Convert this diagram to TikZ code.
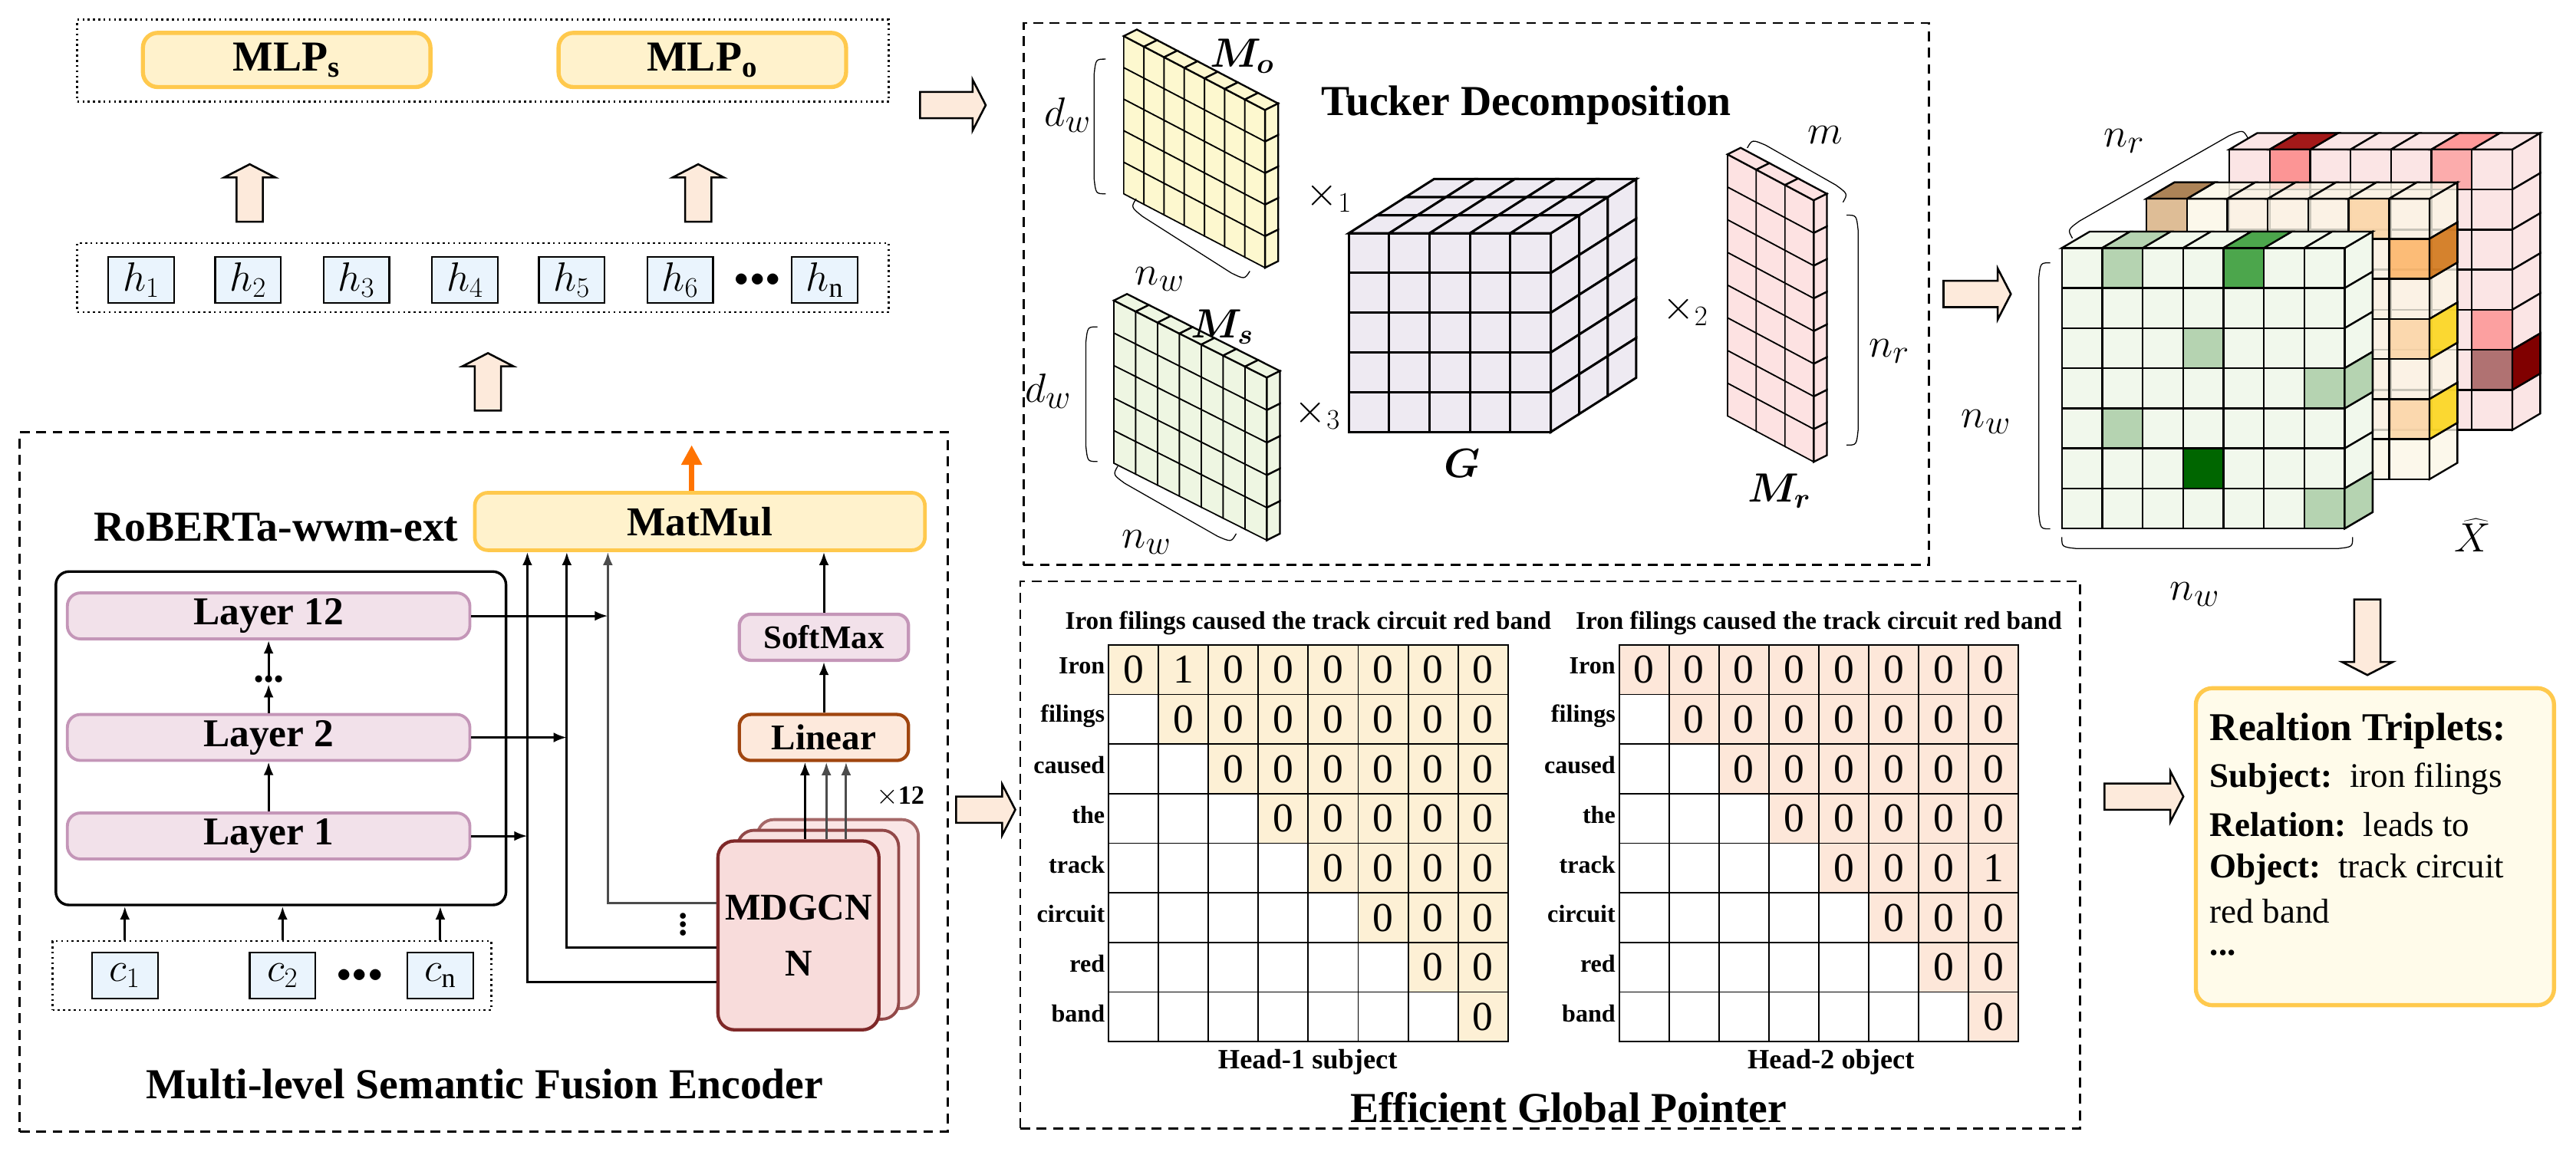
\documentclass[tikz,border=0pt]{standalone}
\usepackage{fontspec}
\setmainfont{Liberation Serif}
\usepackage{bm}
\usetikzlibrary{arrows.meta}

\definecolor{matO}{HTML}{FDF8CF}
\definecolor{matS}{HTML}{EEF6E2}
\definecolor{matR}{HTML}{FDE2E2}
\definecolor{core}{HTML}{EEEAF2}
\definecolor{tgrn}{HTML}{F1F8EC}
\definecolor{tyel}{HTML}{FBF6E6}
\definecolor{tpnk}{HTML}{FBE5E5}
\definecolor{subj}{HTML}{FDF0D5}
\definecolor{obj}{HTML}{FDE7D9}
\definecolor{hfill}{HTML}{EAF4FD}
\definecolor{mlpfill}{HTML}{FFF2CC}
\definecolor{mlpdraw}{HTML}{FFC94D}
\definecolor{layfill}{HTML}{F2E1EA}
\definecolor{laydraw}{HTML}{C496B8}
\definecolor{linfill}{HTML}{FDE9DC}
\definecolor{lindraw}{HTML}{A0450F}
\definecolor{mdgfill}{HTML}{F8DCDB}
\definecolor{mdgdraw}{HTML}{7F2828}
\definecolor{fatfill}{HTML}{FDEADB}
\definecolor{tripfill}{HTML}{FFFBEA}

\tikzset{
  cell/.style={draw=black, line width=1.1pt},
  dotbox/.style={draw, dotted, line width=1.2pt},
  dashbox/.style={draw, dash pattern=on 6pt off 4pt, line width=1.2pt},
  mlp/.style={draw=mlpdraw, fill=mlpfill, line width=2.5pt, rounded corners=9pt, font=\fontsize{26}{30}\selectfont\bfseries},
  layer/.style={draw=laydraw, fill=layfill, line width=1.8pt, rounded corners=8pt, minimum width=245pt, minimum height=28pt, font=\fontsize{24}{28}\selectfont\bfseries},
  tok/.style={draw, fill=hfill, line width=1pt, minimum width=40pt, minimum height=28pt, inner sep=0pt, font=\fontsize{24}{28}\selectfont},
  zero/.style={font=\fontsize{25}{28}\selectfont, inner sep=0pt},
  wlab/.style={font=\fontsize{15}{18}\selectfont\bfseries, inner sep=1pt},
  ttl/.style={font=\fontsize{26}{30}\selectfont\bfseries},
  mlab/.style={font=\fontsize{30}{34}\selectfont, inner sep=0pt},
  blab/.style={font=\fontsize{25}{29}\selectfont, inner sep=0pt},
  brk/.style={draw, line width=0.6pt},
  fatarr/.style={draw, fill=fatfill, line width=1.2pt},
  conn/.style={-{Latex[length=8pt,width=6pt]}, line width=1.4pt},
  gconn/.style={conn, draw=black!70},
  trip/.style={anchor=west, font=\fontsize{21}{25}\selectfont, inner sep=0pt}
}

% fat block arrow: tail point, rotation, length
\newcommand{\fatarrow}[3]{\draw[fatarr, shift={#1}, rotate=#2] (0,-8) -- (#3-8,-8) -- (#3-8,-15.5) -- (#3,0) -- (#3-8,15.5) -- (#3-8,8) -- (0,8) -- cycle;}
% thin bracket: x, y, angle, length
\newcommand{\brk}[4]{\draw[brk, shift={(#1,#2)}, rotate=#3] (0,7) .. controls (0,1) .. (9,0) -- (#4-9,0) .. controls (#4,1) .. (#4,7);}
% thin matrix slab: x, y, ux, uy, vy, cols, rows, colour
\newcommand{\slab}[8]{%
  \begin{scope}[shift={(#1,#2)}]
    \foreach \i in {1,...,#6}{
      \foreach \j in {1,...,#7}
        \filldraw[cell, line width=0.8pt, fill=#8] ({(\i-1)*#3},{(\i-1)*#4+(\j-1)*#5}) -- ++(#3,#4) -- ++(0,#5) -- ++(-#3,-#4) -- cycle;
      \filldraw[cell, fill=#8] ({(\i-1)*#3},{(\i-1)*#4}) -- ++(#3,#4) -- ++(8,-4) -- ++(-#3,-#4) -- cycle;
    }
    \foreach \j in {1,...,#7}
      \filldraw[cell, fill=#8] ({#6*#3},{#6*#4+(\j-1)*#5}) -- ++(0,#5) -- ++(8,-4) -- ++(0,-#5) -- cycle;
  \end{scope}}
% tensor slab cells (inside a shifted scope)
\newcommand{\tslab}[1]{%
  \foreach \i in {0,...,6}{
    \foreach \j in {0,...,6}
      \filldraw[cell, fill=#1] (\i*24.6,\j*24.4) rectangle ++(24.6,24.4);
    \filldraw[cell, fill=#1] (\i*24.6,0) -- ++(17,-10) -- ++(24.6,0) -- ++(-17,10) -- cycle;
    \filldraw[cell, fill=#1] (172.2,\i*24.4) -- ++(17,-10) -- ++(0,24.4) -- ++(-17,10) -- cycle;
  }}
\newcommand{\frontc}[3]{\filldraw[cell, fill=#3] (#1*24.6,#2*24.4) rectangle ++(24.6,24.4);}
\newcommand{\topc}[2]{\filldraw[cell, fill=#2] (#1*24.6,0) -- ++(17,-10) -- ++(24.6,0) -- ++(-17,10) -- cycle;}
\newcommand{\sidec}[2]{\filldraw[cell, fill=#2] (172.2,#1*24.4) -- ++(17,-10) -- ++(0,24.4) -- ++(-17,10) -- cycle;}

\begin{document}
\begin{tikzpicture}[x=1pt,y=-1pt]
\useasboundingbox (0,0) rectangle (1568,703);

% ---------- top left: MLP and hidden states
\node[dotbox, minimum width=494pt, minimum height=50pt] (mlpbox) at (294,37) {};
\node[mlp, minimum width=175pt, minimum height=33pt] (mlps) at (174.5,36.5) {MLP\textsubscript{s}};
\node[mlp, minimum width=175pt, minimum height=33pt] (mlpo) at (427.5,36.5) {MLP\textsubscript{o}};
\node[dotbox, minimum width=494pt, minimum height=42pt] (hbox) at (294,169) {};
\foreach \x/\k [count=\n] in {86/1,151/2,217/3,283/4,348/5,414/6,502/\mathrm{n}}
  \node[tok] (h\n) at (\x,170.5) {$h_{\k}$};
\node[font=\fontsize{16}{16}\selectfont] (hdots) at (461,170.5) {$\bullet\!\bullet\!\bullet$};
\fatarrow{(152,135)}{90}{35}
\fatarrow{(425,135)}{90}{35}
\fatarrow{(297,250)}{90}{35}
\fatarrow{(560,64)}{0}{40}

% ---------- encoder
\node[dashbox, minimum width=565pt, minimum height=426pt] (enc) at (294.5,476) {};
\node[draw, line width=1.6pt, rounded corners=8pt, minimum width=274pt, minimum height=203pt] (rob) at (171,449.5) {};
\node[draw=mlpdraw, fill=mlpfill, line width=2.2pt, rounded corners=8pt, minimum width=274pt, minimum height=35pt, font=\fontsize{25}{29}\selectfont\bfseries] (mm) at (426,317.5) {MatMul};
\node[ttl] (rlab) at (168,321) {RoBERTa-wwm-ext};
\node[layer] (l12) at (163.5,375) {Layer 12};
\node[layer] (l2) at (163.5,449) {Layer 2};
\node[layer] (l1) at (163.5,509) {Layer 1};
\node[font=\fontsize{11}{11}\selectfont, inner sep=0pt] (vd) at (163.5,414) {$\bullet\!\bullet\!\bullet$};
\draw[conn] (l1.north) -- (l2.south);
\draw[conn] (l2.north) -- (vd.south);
\draw[conn] (vd.north) -- (l12.south);
\node[dotbox, minimum width=267pt, minimum height=42pt] (cbox) at (165.5,594) {};
\node[tok] (c1) at (76,594) {$c_{1}$};
\node[tok] (c2) at (172,594) {$c_{2}$};
\node[tok] (cn) at (268,594) {$c_{\mathrm{n}}$};
\node[font=\fontsize{16}{16}\selectfont] (cdots) at (219,594) {$\bullet\!\bullet\!\bullet$};
\foreach \c in {c1,c2,cn}
  \draw[conn] (cbox.north -| \c) -- (rob.south -| \c);
% MDGCN stack
\node[draw=mdgdraw!70, fill=mdgfill!70, line width=1.8pt, rounded corners=10pt, minimum width=98pt, minimum height=115pt] (mdg3) at (510,556.5) {};
\node[draw=mdgdraw!85, fill=mdgfill!85, line width=1.8pt, rounded corners=10pt, minimum width=98pt, minimum height=115pt] (mdg2) at (498,563) {};
\node[draw=mdgdraw, fill=mdgfill, line width=2pt, rounded corners=10pt, minimum width=98pt, minimum height=115pt, align=center, font=\fontsize{23}{34}\selectfont\bfseries] (mdg) at (486,569.5) {MDGCN\\N};
\node[font=\fontsize{16}{18}\selectfont\bfseries] (x12) at (548,485) {$\times$12};
\node[draw=lindraw, fill=linfill, line width=2pt, rounded corners=7pt, minimum width=103pt, minimum height=28pt, font=\fontsize{22}{26}\selectfont\bfseries] (lin) at (501.5,449) {Linear};
\node[draw=laydraw, fill=layfill, line width=2pt, rounded corners=7pt, minimum width=103pt, minimum height=28pt, font=\fontsize{20}{24}\selectfont\bfseries] (sm) at (501.5,388) {SoftMax};
\draw[conn] ([xshift=4pt]mdg.north) -- ([xshift=4pt]mdg.north |- lin.south);
\draw[gconn] ([xshift=17pt]mdg.north) -- ([xshift=17pt]mdg.north |- lin.south);
\draw[gconn] ([xshift=29pt]mdg.north) -- ([xshift=29pt]mdg.north |- lin.south);
\draw[conn] (lin.north) -- (sm.south);
\draw[conn] (sm.north) -- (sm.north |- mm.south);
\coordinate (mmout) at (421,271);
\draw[-{Triangle[length=12pt,width=12pt]}, draw=orange!90!red, line width=3.5pt] (mm.north -| mmout) -- (mmout);
\coordinate (v1) at (321,598);
\coordinate (v2) at (345,577);
\coordinate (v3) at (370,550);
\draw[conn] (l1.east) -- (l1.east -| v1);
\draw[conn] (l2.east) -- (l2.east -| v2);
\draw[conn] (l12.east) -- (l12.east -| v3);
\draw[conn] (mdg.west |- v1) -- (v1) -- (v1 |- mm.south);
\draw[conn] (mdg.west |- v2) -- (v2) -- (v2 |- mm.south);
\draw[gconn] (mdg.west |- v3) -- (v3) -- (v3 |- mm.south);
\node[font=\fontsize{9}{9}\selectfont, inner sep=0pt, rotate=90] (hd) at (416,563) {$\bullet\!\bullet\!\bullet$};
\node[ttl] (enctitle) at (295,660) {Multi-level Semantic Fusion Encoder};
\fatarrow{(582,493)}{0}{36}

% ---------- Tucker decomposition
\node[dashbox, minimum width=551pt, minimum height=330pt] (tucker) at (898.5,179) {};
\node[ttl] (tucktitle) at (929,64) {Tucker Decomposition};
\slab{684}{22}{12.29}{6.43}{19.2}{7}{5}{matO}
\slab{678}{183}{13.3}{6.7}{19.8}{7}{5}{matS}
\slab{1051.5}{94}{17.5}{9.33}{19.9}{3}{8}{matR}
\begin{scope}[shift={(821,142)}]
  \foreach \i in {0,...,4}{
    \foreach \j in {0,...,4}
      \filldraw[cell, line width=1.4pt, fill=core] (\i*24.6,\j*24.2) rectangle ++(24.6,24.2);
    \foreach \k in {0,...,2}{
      \filldraw[cell, line width=1.4pt, fill=core] ({\i*24.6+\k*17.3},{-\k*11}) -- ++(17.3,-11) -- ++(24.6,0) -- ++(-17.3,11) -- cycle;
      \filldraw[cell, line width=1.4pt, fill=core] ({123+\k*17.3},{\i*24.2-\k*11}) -- ++(17.3,-11) -- ++(0,24.2) -- ++(-17.3,11) -- cycle;
    }
  }
\end{scope}
\node[blab] (Mo) at (756,34) {$\bm{M_{o}}$};
\node[blab] (Ms) at (744,199) {$\bm{M_{s}}$};
\node[blab] (Mr) at (1083,299) {$\bm{M_{r}}$};
\node[blab] (G) at (890,282) {$\bm{G}$};
\node[mlab] (dw1) at (650,70) {$d_{w}$};
\node[mlab] (dw2) at (638,238) {$d_{w}$};
\node[mlab] (nw1) at (706,170) {$n_{w}$};
\node[mlab] (nw2) at (698,330) {$n_{w}$};
\node[mlab] (mm1) at (1111,82) {$m$};
\node[mlab] (nr1) at (1150,214) {$n_{r}$};
\node[blab] (x1) at (809,120) {$\times_{1}$};
\node[blab] (x3) at (802,252) {$\times_{3}$};
\node[blab] (x2) at (1026,189) {$\times_{2}$};
\brk{666}{118}{90}{82}
\brk{661}{281}{90}{82}
\brk{757}{171}{147.5}{82}
\brk{749}{331}{150.3}{83}
\brk{1067}{84}{-29.6}{67}
\brk{1131}{131}{-90}{140}
\fatarrow{(1183,179)}{0}{41}

% ---------- reconstructed tensor
\begin{scope}[shift={(1357,91)}]
  \tslab{tpnk}
  \topc{1}{red!60!black!90} \topc{5}{red!40!white} \frontc{1}{0}{red!35!tpnk} \frontc{5}{0}{red!25!tpnk}
  \frontc{6}{5}{red!40!black!50!tpnk} \sidec{5}{red!50!black} \frontc{6}{4}{red!30!tpnk}
\end{scope}
\begin{scope}[shift={(1306.6,121)}, fill opacity=0.8]
  \tslab{tyel}
  \topc{0}{brown!80!black} \frontc{0}{0}{brown!60!tyel} \frontc{5}{0}{orange!30!tyel}
  \frontc{6}{1}{orange!60!tyel} \sidec{1}{orange!80!black} \frontc{6}{3}{orange!30!tyel} \sidec{3}{yellow!70!orange}
  \frontc{6}{5}{orange!30!tyel} \sidec{5}{yellow!70!orange}
\end{scope}
\begin{scope}[shift={(1255,151)}]
  \tslab{tgrn}
  \topc{1}{green!40!black!25!tgrn} \topc{4}{green!50!black!70} \frontc{1}{0}{green!40!black!25!tgrn} \frontc{4}{0}{green!50!black!70}
  \frontc{3}{2}{green!40!black!25!tgrn} \frontc{6}{3}{green!40!black!25!tgrn} \sidec{3}{green!40!black!25!tgrn}
  \frontc{1}{4}{green!40!black!25!tgrn} \frontc{3}{5}{green!40!black} \frontc{6}{6}{green!40!black!25!tgrn} \sidec{6}{green!40!black!25!tgrn}
\end{scope}
\node[mlab] (nr2) at (1293,86) {$n_{r}$};
\node[mlab] (nw3) at (1209,257) {$n_{w}$};
\node[mlab] (nw4) at (1336,362) {$n_{w}$};
\node[mlab, font=\fontsize{40}{44}\selectfont] (Xh) at (1505,326) {$\widehat{X}$};
\brk{1258}{139}{29.7}{123}
\brk{1241}{322}{90}{162}
\brk{1432}{334}{180}{177}
\fatarrow{(1441,365)}{-90}{46}

% ---------- relation triplets
\node[draw=mlpdraw, fill=tripfill, line width=2.5pt, rounded corners=10pt, minimum width=218pt, minimum height=193pt] (trip) at (1445.6,515.5) {};
\node[trip, font=\fontsize{24}{28}\selectfont\bfseries] (t0) at (1345,445) {Realtion Triplets:};
\node[trip] (t1) at (1345,474) {\textbf{Subject:}\enspace iron filings};
\node[trip] (t2) at (1345,502) {\textbf{Relation:}\enspace leads to};
\node[trip] (t3) at (1345,529.5) {\textbf{Object:}\enspace track circuit};
\node[trip] (t4) at (1345,555) {red band};
\node[trip, font=\fontsize{21}{25}\selectfont\bfseries] (t5) at (1345,580) {...};
\fatarrow{(1281,485)}{0}{48}

% ---------- efficient global pointer
\node[dashbox, minimum width=645pt, minimum height=333pt] (egp) at (943.5,520.5) {};
\foreach \ox/\mfill/\hr/\hc/\nm/\hx in {674.7/subj/0/1/Head-1 subject/796, 985.5/obj/4/7/Head-2 object/1114.5}{
  \begin{scope}[shift={(\ox,392.6)}]
    \foreach \r in {0,...,7}
      \foreach \c in {0,...,7}{
        \ifnum\c<\r
          \draw[cell, line width=0.9pt] (\c*30.4,\r*30.2) rectangle ++(30.4,30.2);
        \else
          \pgfmathtruncatemacro\v{and(\r==\hr,\c==\hc)}
          \filldraw[cell, line width=0.9pt, fill=\mfill] (\c*30.4,\r*30.2) rectangle ++(30.4,30.2);
          \node[zero] at (\c*30.4+15.2,\r*30.2+15.1) {\v};
        \fi
      }
    \foreach \w [count=\r from 0] in {Iron,filings,caused,the,track,circuit,red,band}
      \node[wlab, anchor=east] at (-1,\r*30.2+13) {\w};
    \node[wlab, font=\fontsize{15.5}{18}\selectfont\bfseries] at (121.6,-13.3) {Iron filings caused the track circuit red band};
  \end{scope}
  \node[wlab, font=\fontsize{17}{20}\selectfont\bfseries] at (\hx,646.6) {\nm};
}
\node[ttl] (egptitle) at (954.7,674.4) {Efficient Global Pointer};
\end{tikzpicture}
\end{document}
